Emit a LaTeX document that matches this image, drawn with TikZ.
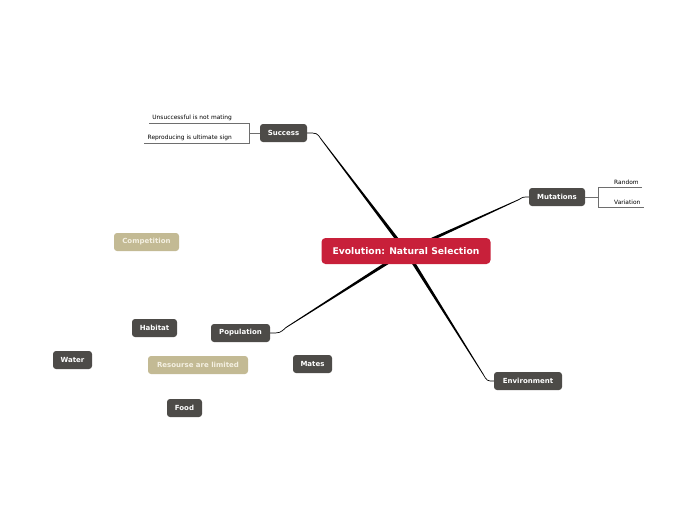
\documentclass[tikz,border=0pt]{standalone}
\usepackage{fontspec}
\setmainfont{DejaVu Sans}
\usetikzlibrary{calc,backgrounds}
\definecolor{topicdark}{HTML}{4D4B48}
\definecolor{centralred}{HTML}{C8203A}
\definecolor{tanfill}{HTML}{C3BA94}
\definecolor{tantext}{HTML}{F4F0E2}
\definecolor{subline}{HTML}{6E6E6E}
\begin{document}
\begin{tikzpicture}[x=1pt,y=-1pt,
  topic/.style={fill=topicdark, text=white, font=\bfseries\fontsize{7}{8}\selectfont,
    rounded corners=3pt, minimum height=18pt, inner sep=0pt, anchor=center},
  tantopic/.style={topic, fill=tanfill, text=tantext},
  central/.style={fill=centralred, text=white, font=\bfseries\fontsize{9.2}{10}\selectfont,
    rounded corners=4pt, minimum height=26pt, minimum width=169pt, inner sep=0pt},
  subtext/.style={font=\fontsize{5.9}{6.5}\selectfont, text=black, inner xsep=0pt, inner ysep=2pt},
  sublink/.style={draw=subline, line width=0.6pt},
  thinlink/.style={draw=black, line width=0.7pt},
  branch/.style={fill=black}
]
\useasboundingbox (0,0) rectangle (697,520);

\node[central] (C) at (406,251) {Evolution: Natural Selection};
\node[topic, minimum width=47pt] (S) at (283.5,133) {Success};
\node[topic, minimum width=56pt] (M) at (557,197) {Mutations};
\node[topic, minimum width=68pt] (E) at (528,381) {Environment};
\node[topic, minimum width=59pt] (P) at (240.5,333) {Population};
\node[topic, minimum width=45pt] (H) at (154.5,328) {Habitat};
\node[topic, minimum width=39pt] (W) at (72.5,360) {Water};
\node[tantopic, minimum width=100pt] (R) at (198,365) {Resourse are limited};
\node[topic, minimum width=39pt] (Ma) at (312.5,364) {Mates};
\node[topic, minimum width=35pt] (F) at (184.5,408) {Food};
\node[tantopic, minimum width=65pt] (Co) at (146.5,242) {Competition};

% subtopics of Success
\node[subtext, anchor=south east] (U1) at (232,123) {Unsuccessful is not mating};
\node[subtext, anchor=south east] (U2) at (232,143) {Reproducing is ultimate sign};
\coordinate (SB) at (249,133);
% subtopics of Mutations
\node[subtext, anchor=south west] (V1) at (614,187) {Random};
\node[subtext, anchor=south west] (V2) at (614,207) {Variation};
\coordinate (MB) at (598,197);

\begin{scope}[on background layer]
  \coordinate (bS) at (321,139);
  \coordinate (bM) at (519,199.5);
  \coordinate (bE) at (483,374);
  \coordinate (bP) at (286,327.5);
  \foreach \b in {bS,bM,bE,bP}{
    \fill[branch] ($(C.center)!1.8pt!90:(\b)$) -- ($(\b)!0.4pt!-90:(C.center)$)
      -- ($(\b)!0.4pt!90:(C.center)$) -- ($(C.center)!1.8pt!-90:(\b)$) -- cycle;
  }
  \draw[thinlink] (S.east) .. controls (317,133) .. (bS);
  \draw[thinlink] (M.west) .. controls (523,197) .. (bM);
  \draw[thinlink] (E.west) .. controls (487,381) .. (bE);
  \draw[thinlink] (P.east) .. controls (280,333) .. (bP);
\end{scope}

\draw[sublink] (S.west) -- (SB);
\draw[sublink] ([xshift=-3pt]U1.south west) -- (U1.south west -| SB) -- (U2.south west -| SB) -- ([xshift=-3pt]U2.south west);
\draw[sublink] (M.east) -- (MB);
\draw[sublink] ([xshift=28pt]V1.south west) -- (V1.south west -| MB) -- (V2.south west -| MB) -- ([xshift=30pt]V2.south west);
\end{tikzpicture}
\end{document}
